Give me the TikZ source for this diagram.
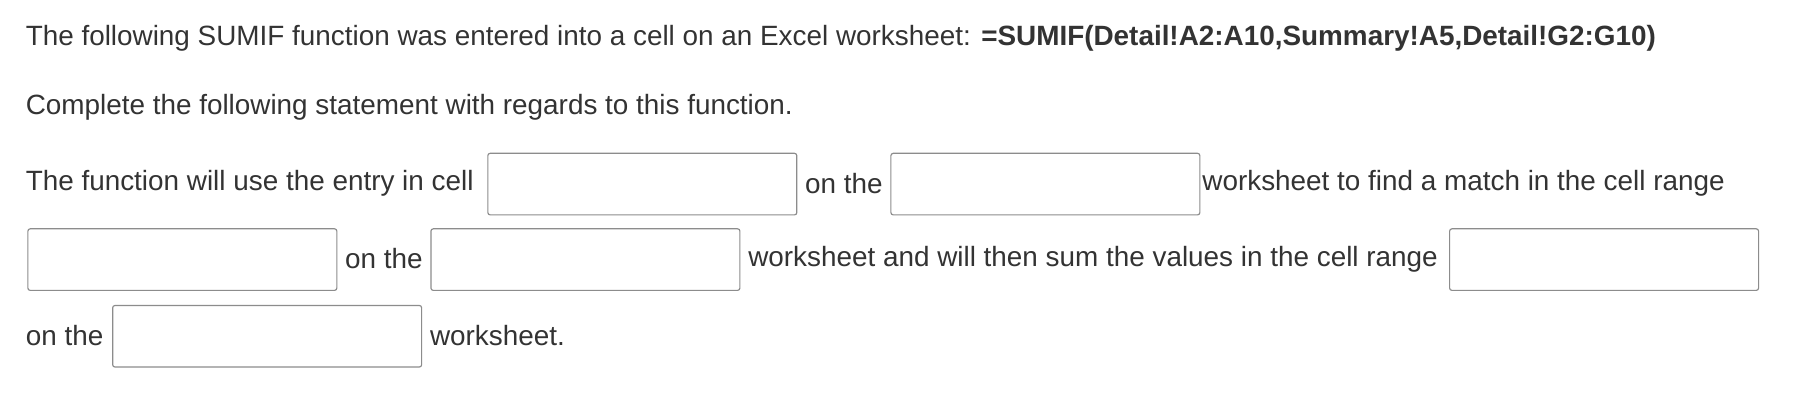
\documentclass[tikz,border=0pt]{standalone}
\usepackage{fontspec}
\setmainfont{Liberation Sans}
\begin{document}
\begin{tikzpicture}[x=1pt,y=-1pt,
  txt/.style={anchor=west,inner sep=0pt,text=black!80,font=\fontsize{24}{28}\selectfont},
  blank/.style={draw=black!45,line width=1pt,rounded corners=2pt}]
\useasboundingbox[fill=white] (0,0) rectangle (1560,355);
\node[txt] (t1) at (22,33) {The following SUMIF function was entered into a cell on an Excel worksheet: \textbf{=SUMIF(Detail!A2:A10,Summary!A5,Detail!G2:G10)}};
\node[txt] (t2) at (22,92) {Complete the following statement with regards to this function.};
\node[txt] (r1a) at (22,158) {The function will use the entry in cell};
\draw[blank] (420,132) rectangle (686,185);
\node[txt] (r1b) at (693,158) {on the};
\draw[blank] (767,132) rectangle (1033,185);
\node[txt] (r1c) at (1035,158) {worksheet to find a match in the cell range};
\draw[blank] (24,197) rectangle (290,250);
\node[txt] (r2a) at (297,223) {on the};
\draw[blank] (371,197) rectangle (637,250);
\node[txt] (r2b) at (644,223) {worksheet and will then sum the values in the cell range};
\draw[blank] (1248,197) rectangle (1514,250);
\node[txt] (r3a) at (22,289) {on the};
\draw[blank] (97,263) rectangle (363,316);
\node[txt] (r3b) at (370,289) {worksheet.};
\end{tikzpicture}
\end{document}
